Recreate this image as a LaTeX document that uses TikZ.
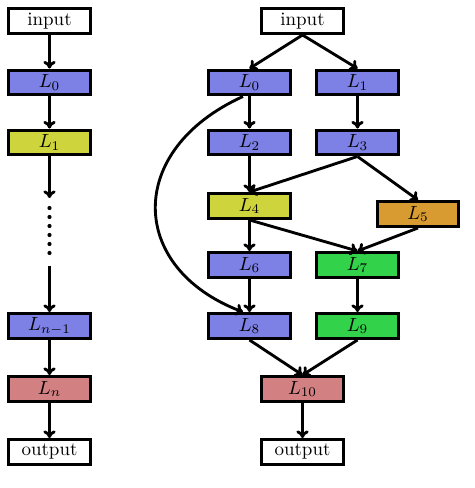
\documentclass[tikz,border=0pt]{standalone}
\usetikzlibrary{arrows.meta}

\definecolor{layerblue}{RGB}{125,128,228}
\definecolor{layeryellow}{RGB}{205,212,60}
\definecolor{layerorange}{RGB}{215,155,50}
\definecolor{layergreen}{RGB}{50,210,75}
\definecolor{layerred}{RGB}{210,128,130}

\begin{document}
\begin{tikzpicture}[
            x=0.527pt, y=-0.527pt,
            layer/.style={draw, line width=1.75pt, minimum width=43pt,
                minimum height=13pt, inner sep=0pt},
            link/.style={-{To[length=4pt, width=6.5pt]}, line width=1.5pt}
        ]
            \useasboundingbox (0,0) rectangle (474,488);

            % chain
            \node[layer]                    (inA)   at (49.5,21)    {input};
            \node[layer, fill=layerblue]    (a0)    at (49.5,82.5)  {$L_0$};
            \node[layer, fill=layeryellow]  (a1)    at (49.5,142.5) {$L_1$};
            \coordinate                     (gapT)  at (49.5,198);
            \coordinate                     (dotT)  at (49.5,208);
            \coordinate                     (dotB)  at (49.5,253);
            \coordinate                     (gapB)  at (49.5,266);
            \node[layer, fill=layerblue]    (an1)   at (49.5,326)   {$L_{n-1}$};
            \node[layer, fill=layerred]     (an)    at (49.5,389)   {$L_n$};
            \node[layer]                    (outA)  at (49.5,452)   {output};

            \draw[link] (inA) -- (a0);
            \draw[link] (a0) -- (a1);
            \draw[link] (a1) -- (gapT);
            \draw[line width=2.2pt, line cap=round, dash pattern=on 0pt off 4.74pt]
                (dotT) -- (dotB);
            \draw[link] (gapB) -- (an1);
            \draw[link] (an1) -- (an);
            \draw[link] (an) -- (outA);

            % graph
            \node[layer]                    (inB)   at (302.5,21)   {input};
            \node[layer, fill=layerblue]    (b0)    at (249.5,82.5) {$L_0$};
            \node[layer, fill=layerblue]    (b1)    at (357.5,82.5) {$L_1$};
            \node[layer, fill=layerblue]    (b2)    at (249.5,142.5){$L_2$};
            \node[layer, fill=layerblue]    (b3)    at (357.5,142.5){$L_3$};
            \node[layer, fill=layeryellow]  (b4)    at (249.5,206)  {$L_4$};
            \node[layer, fill=layerorange]  (b5)    at (418,214)    {$L_5$};
            \node[layer, fill=layerblue]    (b6)    at (249.5,265)  {$L_6$};
            \node[layer, fill=layergreen]   (b7)    at (357.5,265)  {$L_7$};
            \node[layer, fill=layerblue]    (b8)    at (249.5,326)  {$L_8$};
            \node[layer, fill=layergreen]   (b9)    at (357.5,326)  {$L_9$};
            \node[layer, fill=layerred]     (b10)   at (302.5,389)  {$L_{10}$};
            \node[layer]                    (outB)  at (302.5,452)  {output};

            \draw[link] (inB.south) -- (b0.north);
            \draw[link] (inB.south) -- (b1.north);
            \draw[link] (b0) -- (b2);
            \draw[link] (b1) -- (b3);
            \draw[link] (b2) -- (b4);
            \draw[link] (b3.south) -- (b4.north);
            \draw[link] (b3.south) -- (b5.north);
            \draw[link] (b4) -- (b6);
            \draw[link] (b4.south) -- (b7.north);
            \draw[link] (b5.south) -- (b7.north);
            \draw[link] (b6) -- (b8);
            \draw[link] (b7) -- (b9);
            \draw[link] (b8.south) -- (b10.north);
            \draw[link] (b9.south) -- (b10.north);
            \draw[link] (b10) -- (outB);
            \draw[link] (b0.245) .. controls (125,150) and (128,268) .. (b8.115);
        \end{tikzpicture}
\end{document}
